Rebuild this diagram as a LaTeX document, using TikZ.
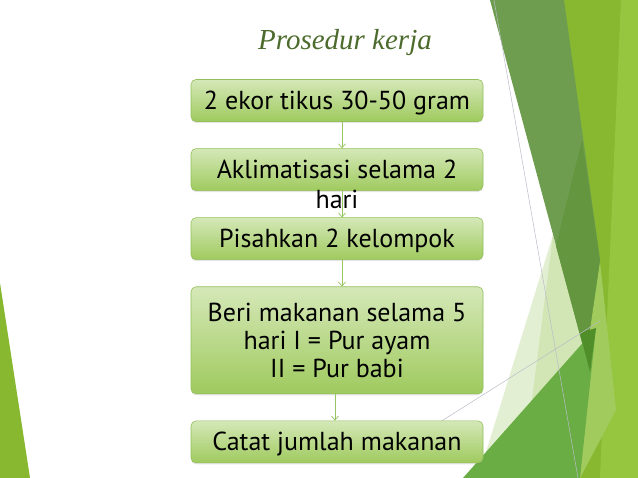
\documentclass[tikz,border=0pt]{standalone}
\usepackage{fontspec}
\setmainfont{PT Sans}
\newfontfamily\titlefont{Liberation Serif}
\usepackage{xcolor}
\usetikzlibrary{positioning,arrows.meta,shadows}

\definecolor{limau}{HTML}{87B830}
\definecolor{limauterang}{HTML}{96C63F}
\definecolor{limaupucat}{HTML}{A2CB5E}
\definecolor{pita}{HTML}{6F9D50}
\definecolor{pitagelap}{HTML}{63963E}
\definecolor{tergelap}{HTML}{508E2A}
\definecolor{sedang}{HTML}{6AAD44}
\definecolor{pucat}{HTML}{E3EFD2}
\definecolor{pucatdua}{HTML}{D2E5B4}
\definecolor{garistipis}{HTML}{B9BDC9}
\definecolor{judulhijau}{HTML}{4C6B2C}
\definecolor{atas}{HTML}{D5E8B8}
\definecolor{bawah}{HTML}{9FCA5E}
\definecolor{garis}{HTML}{93C05A}
\definecolor{garispanah}{HTML}{97C55F}

\begin{document}
\begin{tikzpicture}[x=1pt,y=-1pt,
    langkah/.style={draw=garis, line width=.6pt, rounded corners=5pt,
      top color=atas, bottom color=bawah,
      minimum width=292pt, minimum height=42pt, inner sep=0pt,
      text height=18pt, text depth=0pt,
      font=\fontsize{26}{28}\selectfont,
      drop shadow={opacity=.2, shadow xshift=0pt, shadow yshift=-1.5pt}},
    panah/.style={draw=garispanah, line width=.7pt,
      -{Straight Barb[length=4pt,width=7pt]}},
    node distance=26.5pt]

    \fill[white] (0,0) rectangle (638,478);
    \useasboundingbox (0,0) rectangle (638,478);

    % latar
    \fill[limau] (560,0) -- (638,0) -- (638,478) -- (560,478) -- cycle;
    \fill[limauterang] (621,0) -- (638,0) -- (638,478) -- (600,478) -- cycle;
    \fill[pucat] (553,235) -- (592,372) -- (478,478) -- cycle;
    \fill[pucatdua] (553,235) -- (592,372) -- (522,478) -- cycle;
    \fill[pita] (490,0) -- (564,0) -- (600,260) -- (590,372) -- cycle;
    \fill[pitagelap] (582,140) -- (600,260) -- (590,372) -- (556,246) -- cycle;
    \fill[limaupucat] (600,262) -- (616,410) -- (580,478) -- (590,330) -- cycle;
    \fill[sedang] (463,478) -- (596,328) -- (580,478) -- cycle;
    \fill[tergelap] (580,333) -- (596,328) -- (590,372) -- cycle;
    \draw[garistipis, line width=.5pt] (494,0) -- (578,478);
    \draw[garistipis, line width=.5pt] (440,422) -- (600,321);
    \fill[limau] (0,283) -- (30,478) -- (0,478) -- cycle;

    \node (judul) at (345,50) [anchor=base, text=judulhijau,
      font=\titlefont\itshape\fontsize{29}{34}\selectfont] {Prosedur kerja};

    \node[langkah] (tikus) at (337,100.5) {2 ekor tikus 30-50 gram};
    \node[langkah, below=of tikus, font=\fontsize{26}{30}\selectfont] (aklim)
      {\begin{tabular}[t]{@{}c@{}}Aklimatisasi selama 2\\hari\end{tabular}};
    \node[langkah, below=of aklim] (pisah) {Pisahkan 2 kelompok};
    \node[langkah, below=of pisah, minimum height=107pt, text height={},
      text depth={}, align=center] (makan)
      {Beri makanan selama 5\\hari I = Pur ayam\\II = Pur babi};
    \node[langkah, below=of makan] (catat) {Catat jumlah makanan};

    \draw[panah] ([xshift=5pt]tikus.south) -- ([xshift=5pt]aklim.north);
    \draw[panah] ([xshift=5pt]aklim.south) -- ([xshift=5pt]pisah.north);
    \draw[panah] ([xshift=5pt]pisah.south) -- ([xshift=5pt]makan.north);
    \draw[panah] ([xshift=-2pt]makan.south) -- ([xshift=-2pt]catat.north);
\end{tikzpicture}
\end{document}
